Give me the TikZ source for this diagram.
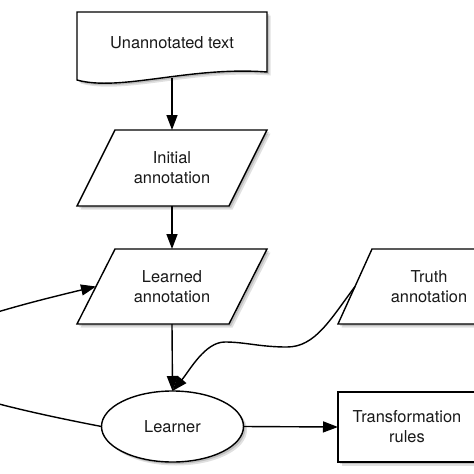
\documentclass[tikz,border=0pt]{standalone}
\usepackage{fontspec}
\setmainfont{TeX Gyre Heros}
\usetikzlibrary{arrows.meta,shapes.geometric,shadows,calc,backgrounds}
\tikzset{
  lbl/.style={font=\fontsize{16.4}{20}\selectfont, align=center, text=black!90},
  shd/.style={drop shadow={opacity=0.12, fill=black, shadow xshift=3.5pt, shadow yshift=-3.5pt},
              drop shadow={opacity=0.15, fill=black, shadow xshift=2pt, shadow yshift=-2pt}},
  outline/.style={draw=black, line width=1.4pt, fill=white, shd},
  conn/.style={line width=1.4pt, -{Triangle[length=15pt,width=11pt]}},
  parabox/.style={lbl, minimum width=114pt, minimum height=#1, inner sep=0pt, outer sep=0pt},
}
\begin{document}
\begin{tikzpicture}[x=1pt,y=-1pt]
\path[use as bounding box, clip] (0,0) rectangle (474,474);
% text nodes
\node[lbl] (doc) at (172,43) {Unannotated text};
\coordinate (docbot) at (172,77.5);
\node[parabox=76pt] (initial) at (172,168) {Initial\\annotation};
\node[parabox=75pt] (learned) at (172,286.5) {Learned\\annotation};
\node[parabox=75pt] (truth) at (429,286.5) {Truth\\annotation};
\node[lbl, ellipse, outline, minimum width=142pt, minimum height=71pt, inner sep=0pt, outer sep=0pt] (learner) at (172.5,426.5) {Learner};
\node[lbl, rectangle, outline, minimum width=138pt, minimum height=70pt, inner sep=0pt, outer sep=0pt] (rules) at (407,427) {Transformation\\rules};
\coordinate (learnedL) at ($(learned.west)+(-19,0)$);
\coordinate (truthL) at ($(truth.west)+(-17,0)$);
% shapes behind text
\begin{scope}[on background layer]
\path[outline] (77,12) -- (267,12) -- (267,72) .. controls (190,66) and (120,92) .. (77,80) -- cycle;
\path[outline] (initial.north west) -- ($(initial.north east)+(38,0)$) -- (initial.south east) -- ($(initial.south west)+(-38,0)$) -- cycle;
\path[outline] (learned.north west) -- ($(learned.north east)+(38,0)$) -- (learned.south east) -- ($(learned.south west)+(-38,0)$) -- cycle;
\path[outline] (truth.north west) -- ($(truth.north east)+(34,0)$) -- (truth.south east) -- ($(truth.south west)+(-34,0)$) -- cycle;
\end{scope}
% connectors
\draw[conn] (docbot) -- (initial.north);
\draw[conn] (initial.south) -- (learned.north);
\draw[conn] (learned.south) -- (learner.north);
\draw[conn] (truthL) .. controls (330,320) and (315,347) .. (287,347)
  .. controls (260,347) and (245,342) .. (225,342)
  .. controls (205,342) and (190,370) .. (learner.north);
\draw[conn] (learner.east) -- (rules.west);
\draw[conn] (learner.west) .. controls (-150,378) and (-150,345) .. (learnedL);
\end{tikzpicture}
\end{document}
